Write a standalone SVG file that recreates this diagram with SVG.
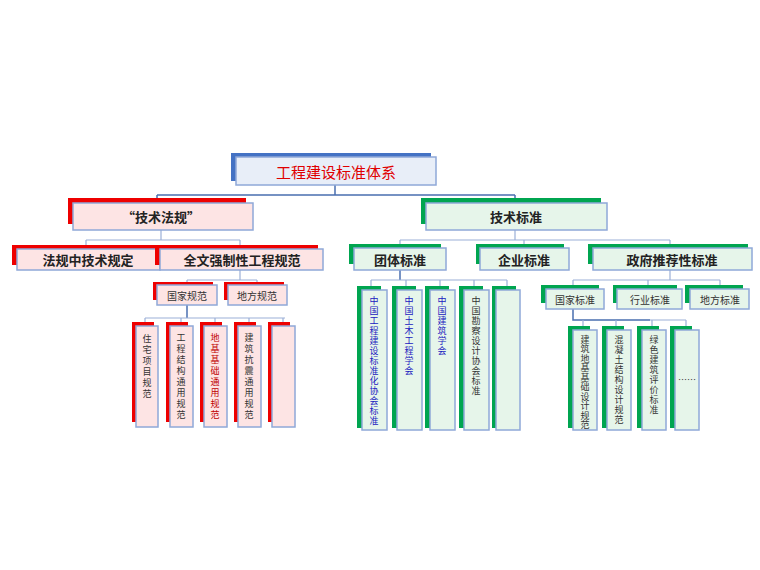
<svg xmlns="http://www.w3.org/2000/svg" width="760" height="570" viewBox="0 0 760 570">
<style>
text{font-family:"Noto Sans CJK SC","Liberation Sans",sans-serif;text-anchor:middle;dominant-baseline:central}
.v{writing-mode:vertical-rl;text-anchor:start;dominant-baseline:auto}
.r{fill:#ee0000}.g{fill:#00a550}.b{fill:#4472c4}
.bx{stroke:#8fa8d8;stroke-width:1.5}
.pr{fill:#fde4e4}.pg{fill:#e6f5ea}.pb{fill:#e8eef8}
.c{stroke:#9bb0d8;stroke-width:1.2;fill:none}
.cm{stroke:#4a6fb0;stroke-width:1.5;fill:none}
.t{font-weight:bold;font-size:13px;fill:#222}
.s{font-size:10px;fill:#333}
.vr{font-size:9px;fill:#333;letter-spacing:2px}
.vg{font-size:9px;fill:#2020c0;letter-spacing:1px}
</style>
<rect width="760" height="570" fill="#fff"/>
<g id="connectors">
<path class="cm" d="M335 185V195M157 195H515M157 195V205M515 195V205"/>
<path class="c" d="M161 230V240M86 240H240M86 240V248M240 240V248"/>
<path class="c" d="M240 270V280M187 280H257M187 280V287M257 280V287"/>
<path class="cm" d="M187 305V318"/><path class="c" d="M145 318H285M145 318V324M181 318V324M215 318V324M249 318V324M283 318V324"/>
<path class="c" d="M515 230V240M400 240H670M400 240V248M524 240V248M670 240V248"/>
<path class="cm" d="M400 270V280"/><path class="c" d="M371 280H507M371 280V288M406 280V288M440 280V288M474 280V288M507 280V288"/>
<path class="c" d="M670 270V280M573 280H720M573 280V289M648 280V289M720 280V289"/>
<path class="cm" d="M573 308V320H650"/><path class="c" d="M650 320H686M583 320V328M616 320V328M652 320V328M686 320V328"/>
</g>
<g id="title"><rect class="b" x="231" y="153" width="200" height="28"/><rect class="bx pb" x="236" y="157" width="200" height="28"/><text x="336" y="171" font-size="15" fill="#e00000">工程建设标准体系</text></g>
<g id="jsfg"><rect class="r" x="68" y="198" width="178" height="26"/><rect class="bx pr" x="73" y="203" width="180" height="27"/><text class="t" x="161" y="216" font-size="15">“技术法规”</text></g>
<g id="fgjs"><rect class="r" x="12" y="245" width="145" height="20"/><rect class="bx pr" x="17" y="249" width="143" height="21"/><text class="t" x="88" y="259">法规中技术规定</text></g>
<g id="qwqz"><rect class="r" x="155" y="245" width="163" height="20"/><rect class="bx pr" x="160" y="249" width="163" height="21"/><text class="t" x="242" y="259">全文强制性工程规范</text></g>
<g id="gjgf"><rect class="r" x="153" y="282" width="60" height="18"/><rect class="bx pr" x="157" y="285" width="60" height="20"/><text class="s" x="187" y="295">国家规范</text></g>
<g id="dfgf"><rect class="r" x="224" y="282" width="60" height="18"/><rect class="bx pr" x="228" y="285" width="59" height="20"/><text class="s" x="257" y="295">地方规范</text></g>
<g id="r1"><rect class="r" x="132" y="322" width="22" height="100"/><rect class="bx pr" x="136" y="326" width="22" height="101"/><text class="v vr" x="147" y="334">住宅项目规范</text></g>
<g id="r2"><rect class="r" x="166" y="322" width="22" height="100"/><rect class="bx pr" x="170" y="326" width="23" height="101"/><text class="v vr" x="181" y="333">工程结构通用规范</text></g>
<g id="r3"><rect class="r" x="200" y="322" width="22" height="100"/><rect class="bx pr" x="204" y="326" width="23" height="101"/><text class="v vr" x="215" y="333" style="fill:#c00000">地基基础通用规范</text></g>
<g id="r4"><rect class="r" x="234" y="322" width="22" height="100"/><rect class="bx pr" x="238" y="326" width="23" height="101"/><text class="v vr" x="249" y="333">建筑抗震通用规范</text></g>
<g id="r5"><rect class="r" x="268" y="322" width="22" height="100"/><rect class="bx pr" x="272" y="326" width="23" height="101"/></g>
<g id="jsbz"><rect class="g" x="421" y="198" width="180" height="26"/><rect class="bx pg" x="426" y="203" width="181" height="27"/><text class="t" x="516" y="216" font-size="15">技术标准</text></g>
<g id="ttbz"><rect class="g" x="349" y="244" width="92" height="20"/><rect class="bx pg" x="354" y="248" width="92" height="22"/><text class="t" x="400" y="259">团体标准</text></g>
<g id="qybz"><rect class="g" x="476" y="244" width="88" height="20"/><rect class="bx pg" x="480" y="248" width="89" height="22"/><text class="t" x="524" y="259">企业标准</text></g>
<g id="zftj"><rect class="g" x="588" y="244" width="160" height="20"/><rect class="bx pg" x="593" y="248" width="159" height="22"/><text class="t" x="672" y="259">政府推荐性标准</text></g>
<g id="g1"><rect class="g" x="357" y="286" width="24" height="142"/><rect class="bx pg" x="362" y="290" width="25" height="140"/><text class="v vg" x="374" y="296">中国工程建设标准化协会标准</text></g>
<g id="g2"><rect class="g" x="392" y="286" width="24" height="142"/><rect class="bx pg" x="397" y="290" width="25" height="140"/><text class="v vg" x="409" y="296">中国土木工程学会</text></g>
<g id="g3"><rect class="g" x="425" y="286" width="24" height="142"/><rect class="bx pg" x="430" y="290" width="25" height="140"/><text class="v vg" x="442" y="296">中国建筑学会</text></g>
<g id="g4"><rect class="g" x="459" y="286" width="24" height="142"/><rect class="bx pg" x="464" y="290" width="25" height="140"/><text class="v vg" x="476" y="296" style="fill:#333">中国勘察设计协会标准</text></g>
<g id="g5"><rect class="g" x="492" y="286" width="24" height="142"/><rect class="bx pg" x="496" y="290" width="24" height="140"/></g>
<g id="gjbz"><rect class="g" x="541" y="285" width="58" height="18"/><rect class="bx pg" x="546" y="289" width="58" height="20"/><text class="s" x="575" y="299">国家标准</text></g>
<g id="hybz"><rect class="g" x="613" y="285" width="64" height="18"/><rect class="bx pg" x="617" y="289" width="65" height="20"/><text class="s" x="650" y="299">行业标准</text></g>
<g id="dfbz"><rect class="g" x="685" y="285" width="58" height="18"/><rect class="bx pg" x="690" y="289" width="59" height="20"/><text class="s" x="720" y="299">地方标准</text></g>
<g id="n1"><rect class="g" x="568" y="326" width="22" height="102"/><rect class="bx pg" x="573" y="330" width="24" height="100"/><text class="v vr" x="585" y="335" style="letter-spacing:0.5px">建筑地基基础设计规范</text></g>
<g id="n2"><rect class="g" x="602" y="326" width="22" height="102"/><rect class="bx pg" x="607" y="330" width="24" height="100"/><text class="v vr" x="619" y="335" style="letter-spacing:1px">混凝土结构设计规范</text></g>
<g id="n3"><rect class="g" x="637" y="326" width="22" height="102"/><rect class="bx pg" x="642" y="330" width="24" height="100"/><text class="v vr" x="654" y="335" style="letter-spacing:1px">绿色建筑评价标准</text></g>
<g id="n4"><rect class="g" x="670" y="326" width="22" height="102"/><rect class="bx pg" x="675" y="330" width="24" height="100"/><text x="687" y="379" style="font-size:9px;fill:#333">……</text></g>
</svg>
